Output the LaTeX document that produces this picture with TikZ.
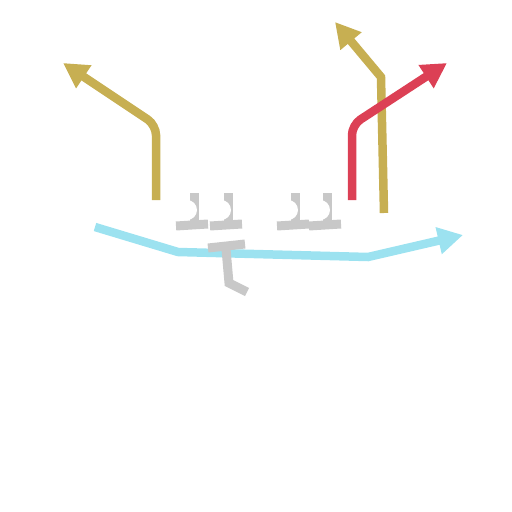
\documentclass[tikz,border=0pt]{standalone}
\usepackage{tikz}
\usepackage{tkz-euclide}
\usepackage{xcolor}
\usetikzlibrary{arrows.meta}
\definecolor{linegold}{RGB}{199,175,82}
\definecolor{linered}{RGB}{220,64,85}
\definecolor{linecyan}{RGB}{156,226,240}
\definecolor{platgrey}{RGB}{200,200,200}

\begin{document}
\begin{tikzpicture}[x=1pt,y=-1pt,
    route/.style={line width=8.5pt,-{Triangle[length=25pt,width=26pt]}},
    platform/.style={platgrey,line width=9pt}]
    \useasboundingbox (0,0) rectangle (512,512);
    \tkzDefPoints{156/200/G1,156/125/G2,63/63/G3,
                  384/213/H1,381/77/H2,335/22/H3,
                  352/200/R1,352/125/R2,447/63/R3,
                  95/227/C1,178/252/C2,368/257/C3,463/235/C4,
                  208/248/T1,245/244/T2,226/249/T3,229/283/T4,247/292/T5}
    \draw[route,linecyan] (C1) -- (C2) -- (C3) -- (C4);
    \draw[platform] (T1) -- (T2);
    \draw[platform] (T3) -- (T4) -- (T5);
    \foreach \s in {194,228,295,327}{
      \draw[platform] (\s,193) -- (\s,226);
      \draw[platform] (\s-18,226) -- (\s+14,224);
      \fill[white] (\s-7,210) circle (10);
    }
    % \tkzDrawPoints(G1,H1,R1)
    \draw[route,linegold,rounded corners=10pt] (G1) -- (G2) -- (G3);
    \draw[route,linegold] (H1) -- (H2) -- (H3);
    \draw[route,linered,rounded corners=10pt] (R1) -- (R2) -- (R3);
\end{tikzpicture}
\end{document}
